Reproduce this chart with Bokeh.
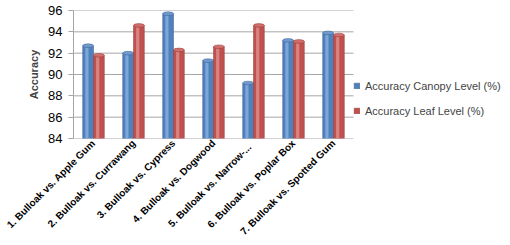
from bokeh.plotting import figure
from bokeh.models import ColumnDataSource, Range1d, Legend, LegendItem, FixedTicker
from bokeh.embed import file_html
from bokeh.resources import INLINE
import math

categories = ["1. Bulloak vs. Apple Gum", "2. Bulloak vs. Currawang", "3. Bulloak vs. Cypress",
              "4. Bulloak vs. Dogwood", "5. Bulloak vs.   Narrow-...", "6. Bulloak vs. Poplar Box",
              "7. Bulloak vs. Spotted Gum"]
canopy = [92.7, 92.0, 95.7, 91.3, 89.2, 93.2, 93.9]
leaf = [91.8, 94.6, 92.3, 92.6, 94.6, 93.1, 93.7]
y_ticks = [84, 86, 88, 90, 92, 94, 96]

idx = list(range(len(categories)))
off = 0.135
src = ColumnDataSource(dict(
    xc=[i - off for i in idx], xl=[i + off for i in idx],
    xch=[i - off - 0.03 for i in idx], xlh=[i + off - 0.03 for i in idx],
    canopy=canopy, leaf=leaf))

p = figure(width=508, height=243, x_range=Range1d(-0.5, 10.375), y_range=Range1d(84, 96),
           output_backend="svg", toolbar_location=None,
           min_border_left=73, min_border_right=0, min_border_top=10, min_border_bottom=105)
p.outline_line_color = None
p.background_fill_color = "white"
p.xgrid.grid_line_color = None
p.ygrid.grid_line_color = None

# gridlines limited to the category area
grid = ColumnDataSource(dict(y=y_ticks, x0=[-0.5] * len(y_ticks), x1=[len(categories) - 0.5] * len(y_ticks)))
p.segment(x0="x0", y0="y", x1="x1", y1="y", source=grid, line_color="#A6A6A6", line_width=1)

b1 = p.vbar(x="xc", top="canopy", bottom=84, width=0.27,
            source=src, fill_color="#4F81BD", line_color="#385D8A", line_width=0.5)
p.vbar(x="xch", top="canopy", bottom=84, width=0.08,
       source=src, fill_color="#7FA6D8", line_color=None)
p.ellipse(x="xc", y="canopy", width=0.27, height=0.35, source=src,
          fill_color="#6F9AD0", line_color="#385D8A", line_width=0.5)
b2 = p.vbar(x="xl", top="leaf", bottom=84, width=0.27,
            source=src, fill_color="#C0504D", line_color="#8C3836", line_width=0.5)
p.vbar(x="xlh", top="leaf", bottom=84, width=0.08,
       source=src, fill_color="#D98380", line_color=None)
p.ellipse(x="xl", y="leaf", width=0.27, height=0.35, source=src,
          fill_color="#D26F6C", line_color="#8C3836", line_width=0.5)

p.yaxis.ticker = y_ticks
p.yaxis.axis_label = "Accuracy"
p.yaxis.axis_label_text_font = "Liberation Sans"
p.yaxis.axis_label_text_font_style = "bold"
p.yaxis.axis_label_text_font_size = "11px"
p.yaxis.major_label_text_font = "Liberation Sans"
p.yaxis.major_label_text_font_size = "13px"
p.yaxis.major_label_text_color = "black"
p.yaxis.axis_line_color = "#A6A6A6"
p.yaxis.major_tick_line_color = "#A6A6A6"
p.yaxis.minor_tick_line_color = None
p.yaxis.major_tick_out = 5
p.yaxis.major_tick_in = 0
p.yaxis.major_label_standoff = 6

p.xaxis.ticker = FixedTicker(ticks=idx)
p.xaxis.major_label_overrides = {i: c for i, c in zip(idx, categories)}
p.xaxis.major_label_orientation = math.pi / 4
p.xaxis.major_label_text_font = "Liberation Sans"
p.xaxis.major_label_text_font_style = "bold"
p.xaxis.major_label_text_font_size = "10px"
p.xaxis.major_label_text_color = "black"
p.xaxis.axis_line_color = None
p.xaxis.major_tick_line_color = None
p.xaxis.minor_tick_line_color = None
p.xaxis.major_tick_out = 0
p.xaxis.major_tick_in = 0
p.xaxis.major_label_standoff = 3

legend = Legend(items=[LegendItem(label="Accuracy Canopy Level (%)", renderers=[b1]),
                       LegendItem(label="Accuracy Leaf Level (%)", renderers=[b2])],
                location=(280, 21), border_line_color=None, background_fill_alpha=0,
                label_text_font="Liberation Sans", label_text_font_size="11px",
                glyph_width=7, glyph_height=7, label_height=13, spacing=12, padding=4, margin=0,
                label_standoff=5)
p.add_layout(legend, "center")

open("out.html", "w").write(file_html(p, INLINE))
